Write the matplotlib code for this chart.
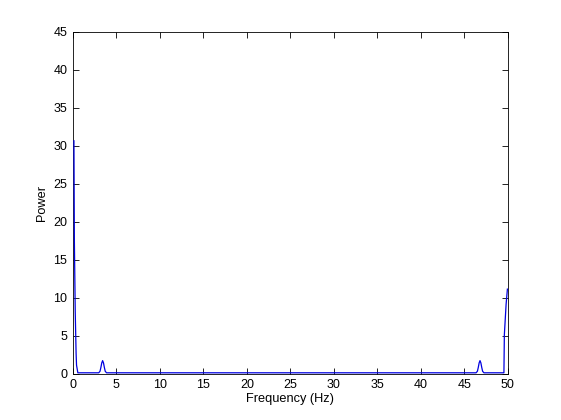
import matplotlib
matplotlib.use("Agg")
import matplotlib.pyplot as plt
from matplotlib.transforms import offset_copy

freq = [0.0, 0.05, 0.15, 0.25, 0.3, 0.45,
        2.85, 3.0, 3.1, 3.2, 3.3, 3.4, 3.5, 3.6, 3.75,
        46.25, 46.4, 46.5, 46.6, 46.7, 46.8, 46.9, 47.0, 47.15,
        49.45, 49.5, 49.6, 49.7, 49.85]
power = [30.5, 17.5, 8.0, 2.5, 1.0, 0.0,
         0.0, 0.2, 0.7, 1.3, 1.6, 1.3, 0.7, 0.2, 0.0,
         0.0, 0.2, 0.7, 1.3, 1.6, 1.3, 0.7, 0.2, 0.0,
         0.0, 5.0, 7.0, 9.0, 11.0]

xticks = [0, 5, 10, 15, 20, 25, 30, 35, 40, 45, 50]
yticks = [0, 5, 10, 15, 20, 25, 30, 35, 40, 45]

plt.rcParams['font.family'] = ['Liberation Sans', 'DejaVu Sans']
fig = plt.figure(figsize=(5.61, 4.2), dpi=100)
ax = fig.add_axes([0.13, 0.11, 0.775, 0.815])
tr = offset_copy(ax.transData, fig=fig, x=1, y=1, units='dots')
ax.plot(freq, power, color='#0000e0', linewidth=0.9, zorder=3,
        clip_on=False, transform=tr)
ax.set_xlim(0, 50)
ax.set_ylim(0, 45)
ax.set_xticks(xticks)
ax.set_yticks(yticks)
ax.tick_params(direction='in', length=4, width=0.6, labelsize=9,
               top=True, right=True, pad=4)
for s in ax.spines.values():
    s.set_linewidth(0.6)
ax.set_xlabel('Frequency (Hz)', fontsize=9.2, labelpad=1)
ax.set_ylabel('Power', fontsize=9.2, labelpad=4)
fig.savefig('out.png', dpi=100)
